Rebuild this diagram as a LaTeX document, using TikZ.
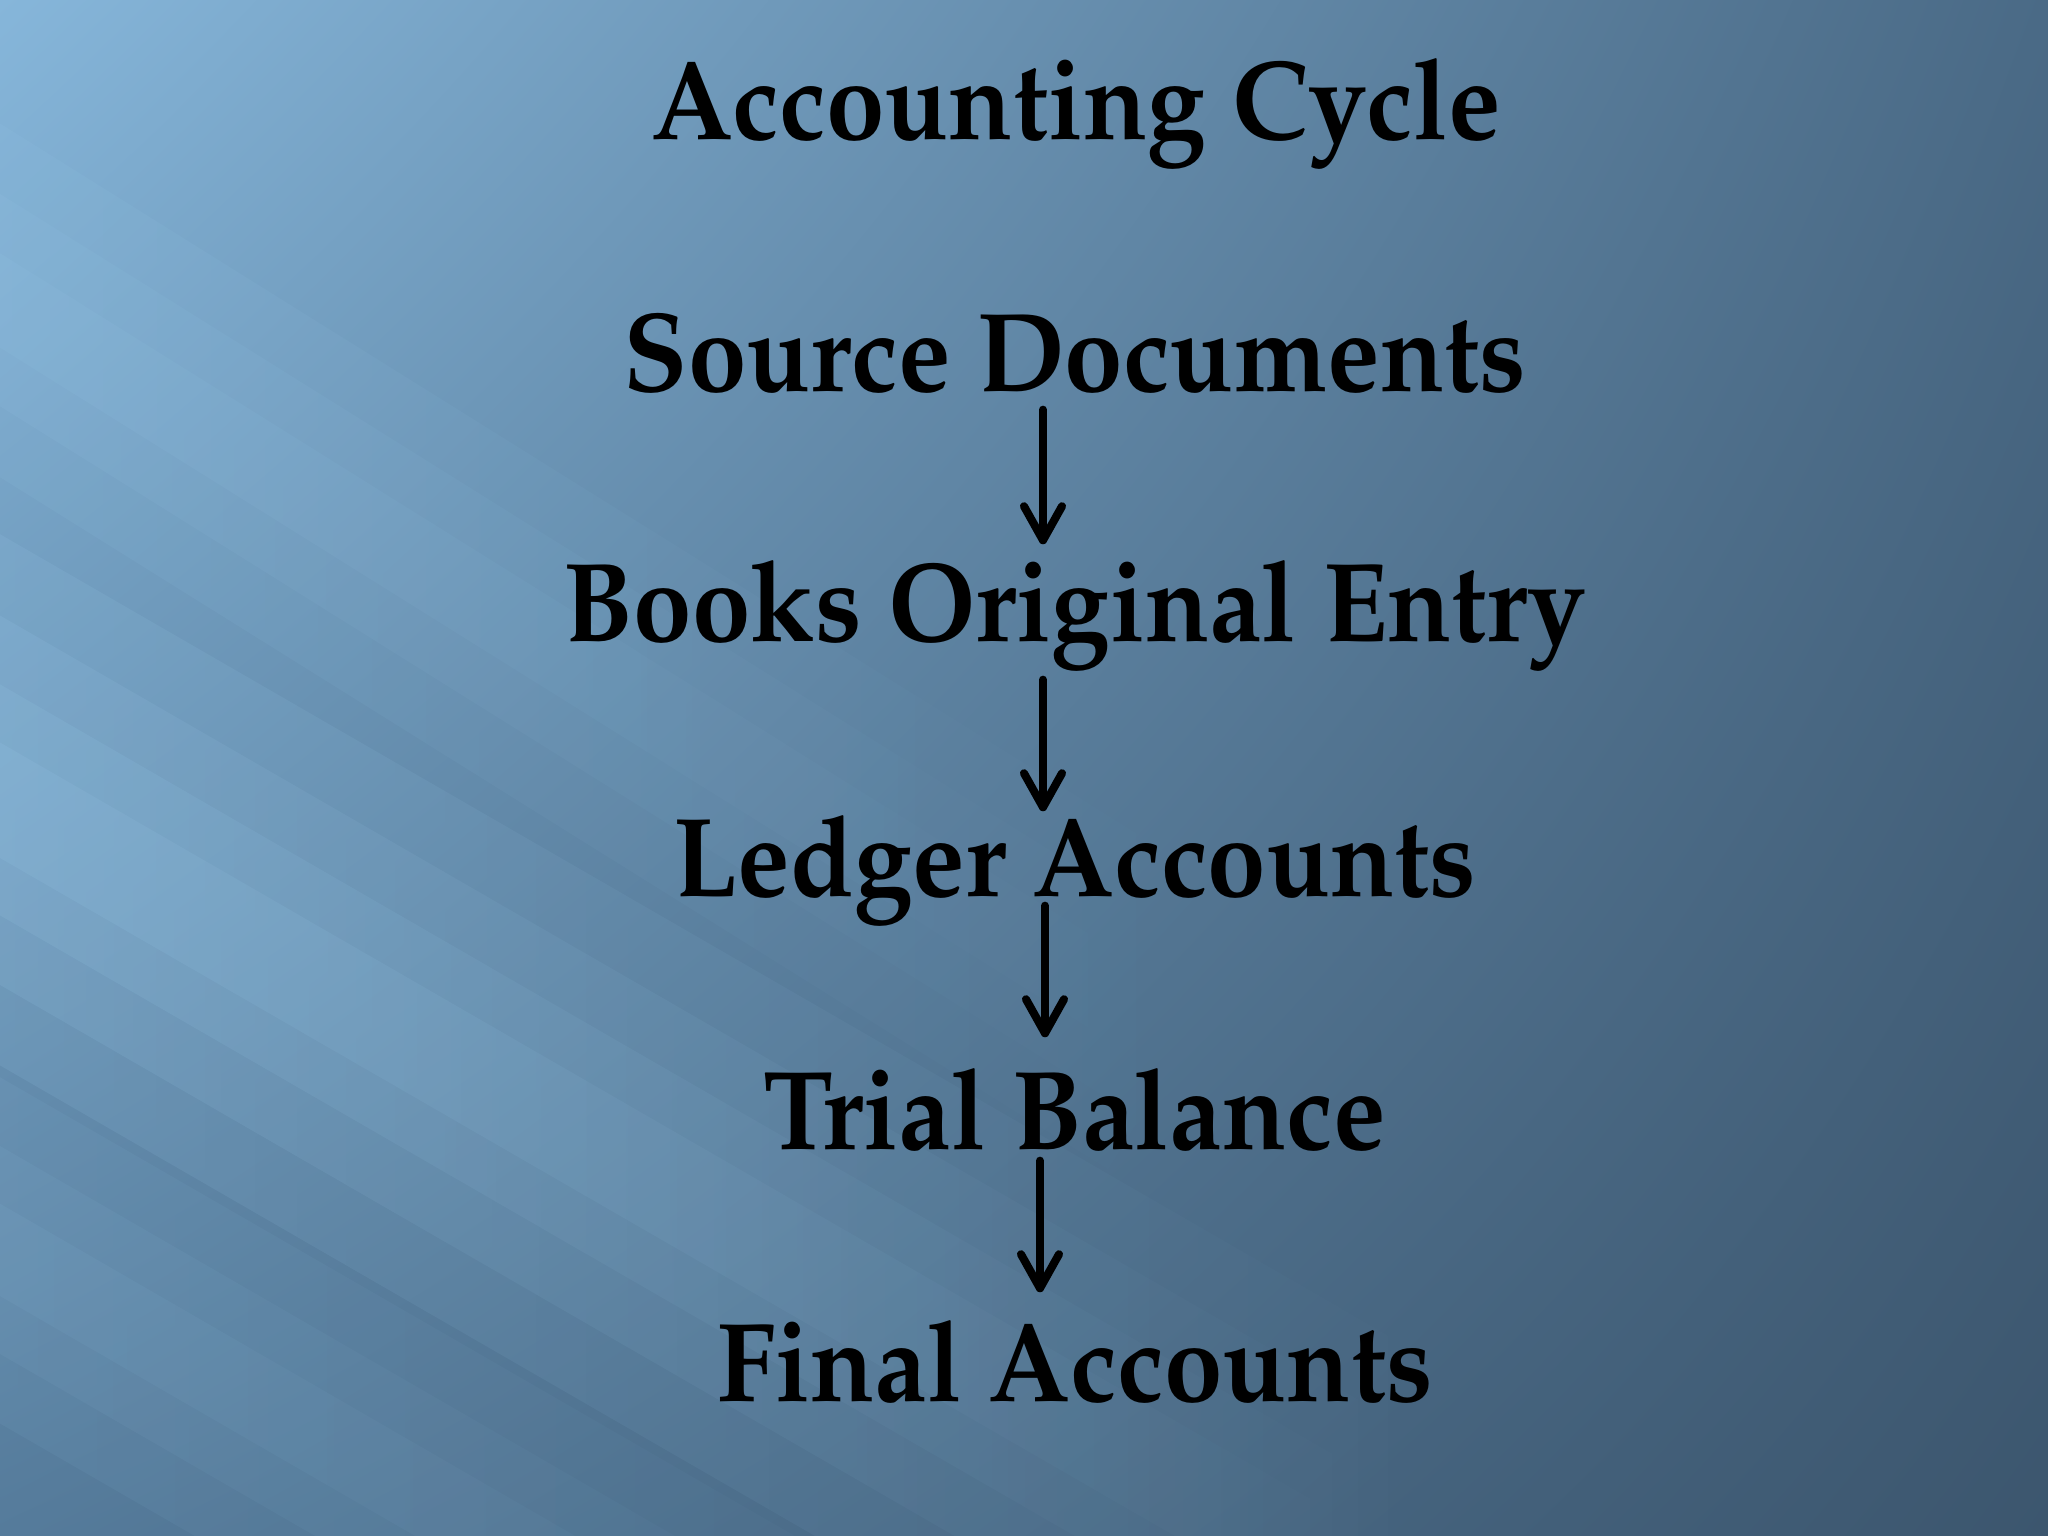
\documentclass[tikz,border=0pt]{standalone}
\usepackage[T1]{fontenc}
\usepackage{mathpazo}
\usepackage{tikz}
\usetikzlibrary{arrows.meta, positioning, shadings, fadings}

\definecolor{bgUL}{HTML}{86B6DA}
\definecolor{bgUR}{HTML}{4A6A86}
\definecolor{bgLL}{HTML}{557B9B}
\definecolor{bgLR}{HTML}{3C566E}
\definecolor{streak}{HTML}{A0D0F0}

\tikzset{
    stage/.style={font=\fontsize{32}{38}\selectfont\bfseries, text height=0.8cm, text depth=0.25cm, inner sep=0pt, anchor=base, xscale=0.935, transform shape},
    flow/.style={line width=2.3pt, line cap=round, -{Straight Barb[round, length=3.4mm, width=3.8mm]}}
}

\begin{document}
\begin{tikzpicture}
    % background
    \useasboundingbox (0,0) rectangle (20.48,-15.36);
    \shade[upper left=bgUL, upper right=bgUR, lower left=bgLL, lower right=bgLR] (0,0) rectangle (20.48,-15.36);
    \begin{scope}
        \clip (0,0) rectangle (20.48,-15.36);
        \foreach \w in {0.5,1.0,1.6,2.3} {
            \fill[streak, opacity=0.15, path fading=east, rotate around={-30:(0,-8)}] (-2,-8-\w) rectangle (16,-8+\w);
        }
        \foreach \w in {0.4,0.9,1.5} {
            \fill[streak, opacity=0.11, path fading=east, rotate around={-32:(0,-3)}] (-2,-3-\w) rectangle (14,-3+\w);
        }
        \foreach \w in {0.4,0.9,1.5} {
            \fill[streak, opacity=0.08, path fading=east, rotate around={-30:(0,-12.5)}] (-2,-12.5-\w) rectangle (14,-12.5+\w);
        }
    \end{scope}

    % stages
    \node[stage] (title) at (10.76,-1.40) {Accounting Cycle};
    \node[stage] (src) at (10.75,-3.92) {Source Documents};
    \node[stage] (books) at (10.75,-6.42) {Books Original Entry};
    \node[stage] (ledger) at (10.75,-8.96) {Ledger Accounts};
    \node[stage] (trial) at (10.75,-11.49) {Trial Balance};
    \node[stage] (final) at (10.75,-14.01) {Final Accounts};

    % arrows
    \foreach \a/\b/\dx/\s/\e in {src/books/-0.32/-0.08/0.17, books/ledger/-0.32/0.12/0.04, ledger/trial/-0.30/-0.16/0.31, trial/final/-0.35/-0.14/0.28} {
        \draw[flow] ([xshift=\dx cm, yshift=-\s cm]\a.south) -- ([xshift=\dx cm, yshift=\e cm]\b.north);
    }
\end{tikzpicture}
\end{document}
